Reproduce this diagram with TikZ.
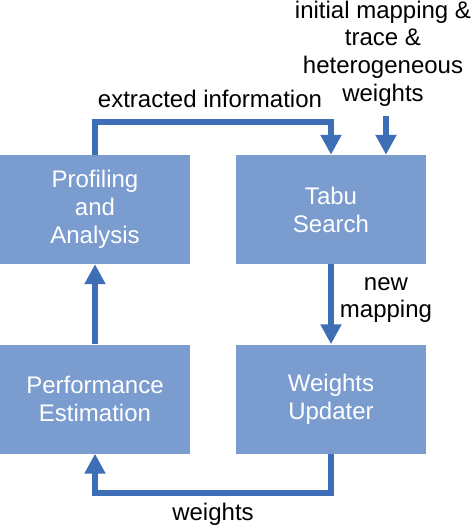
\documentclass[tikz,border=0pt]{standalone}
\usepackage{fontspec}
\setmainfont{Liberation Sans}
\usepackage{xcolor}
\usetikzlibrary{arrows.meta}
\usetikzlibrary{calc}
\definecolor{boxblue}{RGB}{123,156,207}
\definecolor{flowblue}{RGB}{62,111,182}
\tikzset{
  stagebox/.style={fill=boxblue, draw=none, minimum width=190pt, minimum height=109pt, align=center, text=white, font=\fontsize{24}{28}\selectfont},
  flow/.style={draw=flowblue, line width=6pt, -{Triangle[width=20pt,length=20pt]}},
  lbl/.style={align=center, font=\fontsize{24}{27.6}\selectfont, inner sep=0pt}
}
\begin{document}
\begin{tikzpicture}[x=1pt, y=-1pt]
 \useasboundingbox (0,0) rectangle (474,527);
 \node[stagebox] (prof) at (95,209.5) {Profiling\\and\\Analysis};
 \node[stagebox] (tabu) at (331,209.5) {Tabu\\Search};
 \node[stagebox] (perf) at (95,399) {Performance\\Estimation};
 \node[stagebox] (upd) at (331,399) {Weights\\Updater};

 \node[lbl] (inlbl) at (383,53.5) {initial mapping \&\\trace \&\\heterogeneous\\weights};
 \node[lbl] (extlbl) at (210,99) {extracted information};
 \node[lbl] (maplbl) at (386,300) {new\\mapping};
 \node[lbl] (wlbl) at (213,514) {weights};
 \coordinate (in) at (386,116);

 \draw[flow] (prof.north) -- ++(0,-33) -| (tabu.north);
 \draw[flow] (in) -- (in |- tabu.north);
 \draw[flow] (tabu.south) -- (upd.north);
 \draw[flow] (upd.south) -- ++(0,39) -| (perf.south);
 \draw[flow] (perf.north) -- (prof.south);
\end{tikzpicture}
\end{document}
